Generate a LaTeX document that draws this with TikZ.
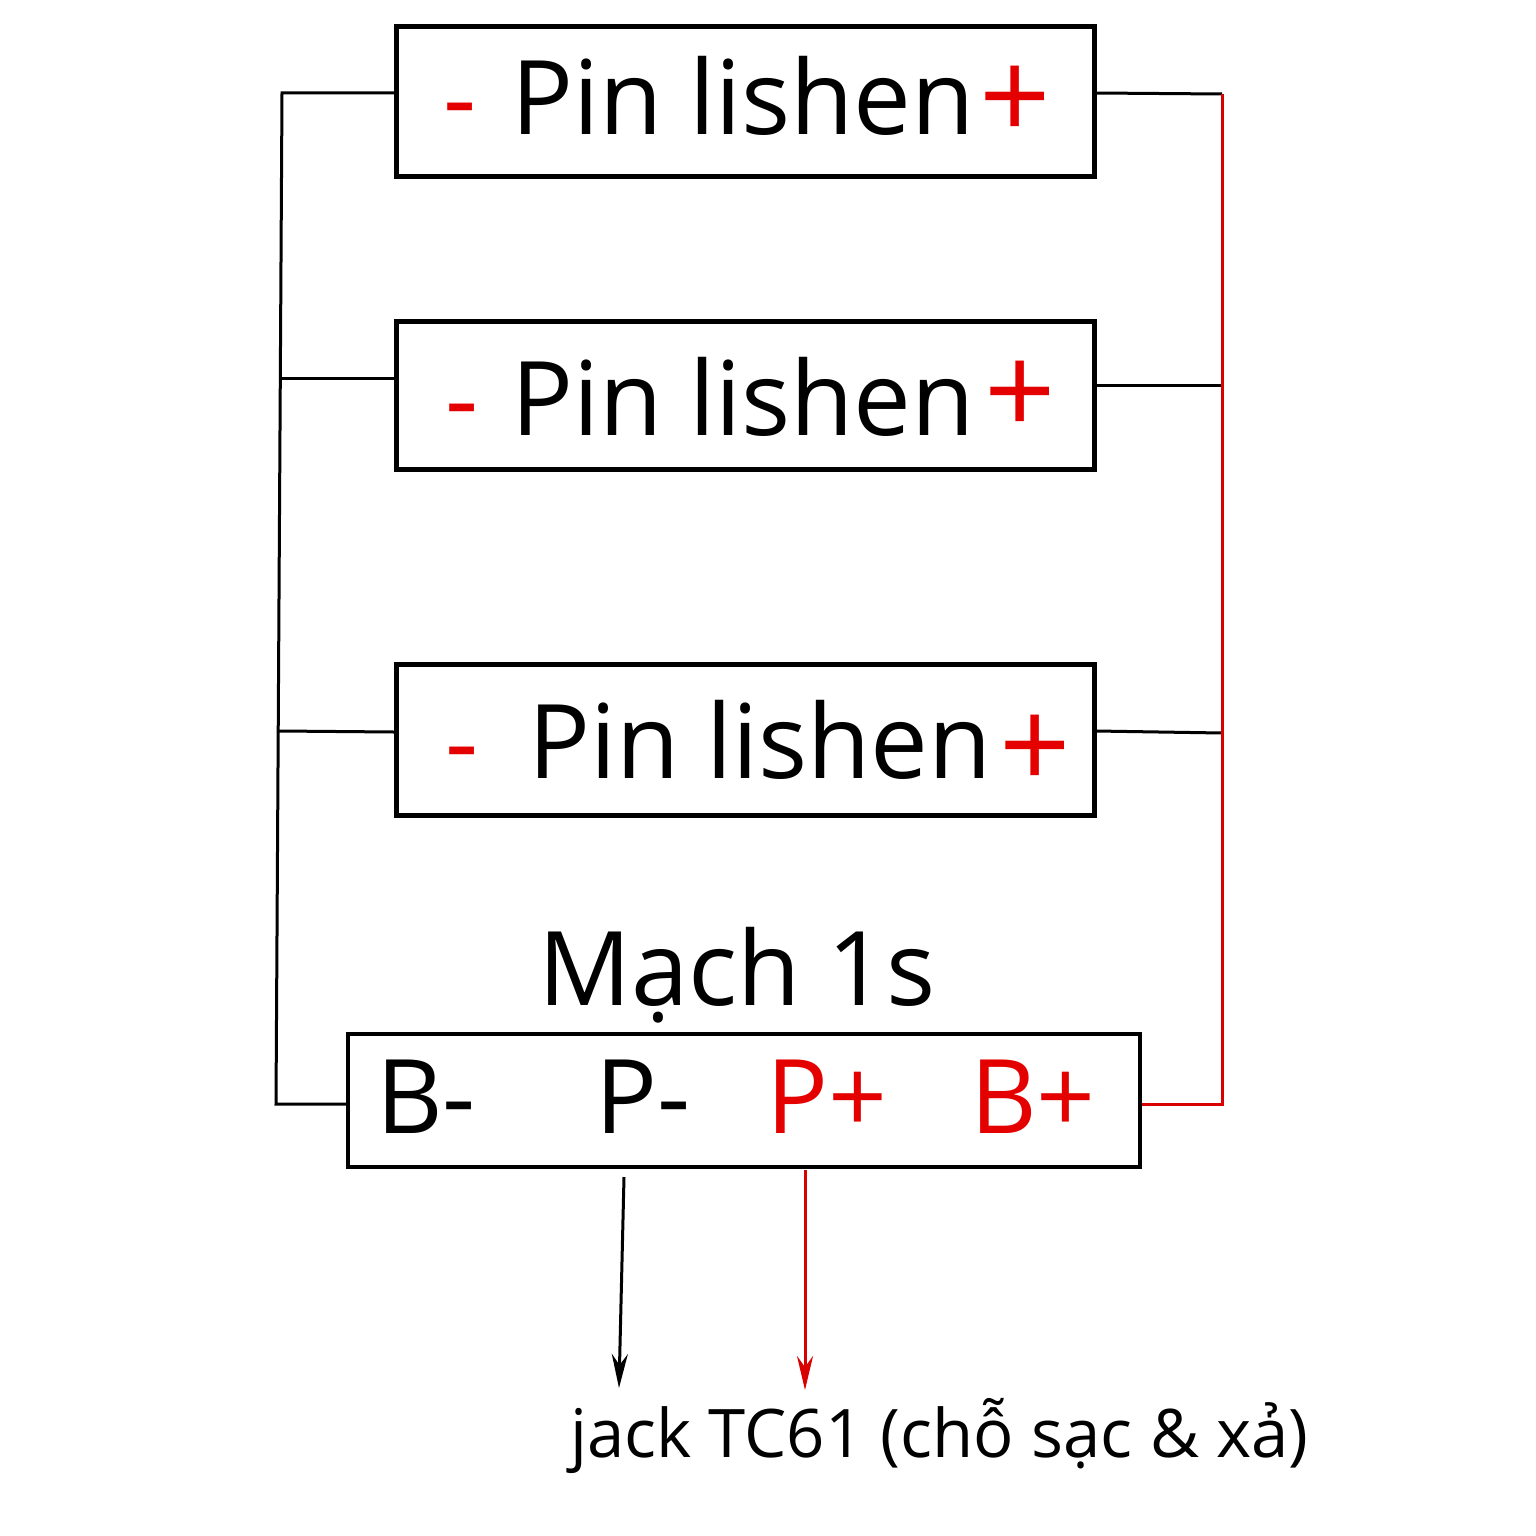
\documentclass[tikz,border=0pt]{standalone}
\usepackage{fontspec}
\setmainfont{Open Sans}
\usetikzlibrary{arrows.meta}
\begin{document}
\begin{tikzpicture}[x=1pt,y=-1pt,
  box/.style={draw,line width=5pt},
  wire/.style={line width=3pt},
  rwire/.style={line width=3pt,draw=red!85!black},
  big/.style={font=\fontsize{103}{103}\selectfont,anchor=base,inner sep=0},
  plus/.style={font=\fontsize{125}{125}\selectfont,anchor=base,inner sep=0},
  mid/.style={font=\fontsize{103}{103}\selectfont,anchor=base,inner sep=0},
  rd/.style={text=red!90!black}]
\useasboundingbox (0,0) rectangle (1536,1536);
\fill[white] (0,0) rectangle (1536,1536);
\foreach \t/\b in {27/176,321/469,664/815}{
  \draw[box] (396,\t) rectangle (1094,\b);
}
\node[big] (p1) at (743,135) {Pin lishen};
\node[big,rd] (m1) at (460,135) {-};
\node[plus,rd] (q1) at (1015,140) {+};
\node[big] (p2) at (743,435) {Pin lishen};
\node[big,rd] (m2) at (462,435) {-};
\node[plus,rd] (q2) at (1020,435) {+};
\node[big] (p3) at (760,778) {Pin lishen};
\node[big,rd] (m3) at (462,778) {-};
\node[plus,rd] (q3) at (1035,789) {+};
\node[mid] (mach) at (737,1005) {Mạch 1s};
\draw[box,line width=4pt] (348,1034) rectangle (1140,1167);
\node[mid] (bm) at (426,1133) {B-};
\node[mid] (pm) at (643,1133) {P-};
\node[mid,rd] (pp) at (827,1133) {P+};
\node[mid,rd] (bp) at (1033,1133) {B+};
\node[font=\fontsize{67}{67}\selectfont,anchor=base west,inner sep=0] (jack) at (570,1457) {jack TC61 (chỗ sạc \& xả)};
\draw[wire] (394,93) -- (282,93) -- (276,1104) -- (346,1104);
\draw[wire] (281,378) -- (394,378);
\draw[wire] (279,731) -- (394,732);
\draw[wire] (1096,93) -- (1222,94);
\draw[wire] (1096,385) -- (1222,385);
\draw[wire] (1096,731) -- (1222,733);
\draw[rwire] (1222,94) -- (1222,1104) -- (1142,1104);
\coordinate (a1) at (619,1388);
\coordinate (a2) at (805,1390);
\draw[wire,-{Stealth[length=34pt,width=16pt]}] (624,1177) -- (a1);
\draw[rwire,-{Stealth[length=34pt,width=16pt]}] (805,1170) -- (a2);
\end{tikzpicture}
\end{document}
